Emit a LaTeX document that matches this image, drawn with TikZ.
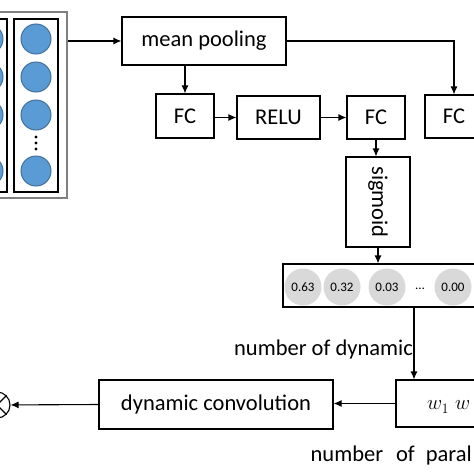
\documentclass[tikz,border=0pt]{standalone}
\usepackage{amsmath}
\usepackage{fontspec}
\setmainfont{Carlito}
\usetikzlibrary{arrows.meta}
\definecolor{cellblue}{HTML}{5B9BD5}
\definecolor{cellrim}{HTML}{41719C}
\definecolor{wgray}{HTML}{D9D9D9}
\begin{document}
\begin{tikzpicture}[x=1pt,y=-1pt]
\tikzstyle{block}=[draw=black,line width=1.1pt,inner sep=0pt,font=\fontsize{22.5}{27}\selectfont]
\tikzstyle{cell}=[circle,draw=cellrim,fill=cellblue,line width=1pt,minimum size=30pt,inner sep=0pt]
\tikzstyle{wcell}=[circle,fill=wgray,minimum size=37pt,inner sep=0pt,font=\fontsize{13}{15}\selectfont]
\tikzstyle{conn}=[line width=1.1pt,-{Latex[length=8pt,width=7pt]}]
\tikzstyle{lab}=[inner sep=0pt,font=\fontsize{22.5}{27}\selectfont]
\useasboundingbox (0,0) rectangle (474,474);
\fill[white] (0,0) rectangle (474,474);
\clip (0,0) rectangle (474,474);
% input features
\node[draw=gray,line width=1.1pt,minimum width=130pt,minimum height=186pt,inner sep=0pt] (in) at (2,105) {};
\node[block,minimum width=44pt,minimum height=173pt] (col1) at (36,105.5) {};
\node[block,minimum width=44pt,minimum height=173pt] (col0) at (-15,105.5) {};
\foreach \y in {39,77,115,171} {
	\node[cell] (a\y) at (36,\y) {};
	\node[cell] (b\y) at (-12,\y) {};
}
\foreach \y in {137,143,149} \fill (36,\y) circle (1.6pt);
% attention branch
\node[block,minimum width=164pt,minimum height=48pt] (mean) at (204,41) {mean pooling};
\node[block,minimum width=58pt,minimum height=44pt] (fc1) at (185,116) {FC};
\node[block,minimum width=83pt,minimum height=43pt] (relu) at (278.5,117.5) {RELU};
\node[block,minimum width=58pt,minimum height=43pt] (fc2) at (376,117.5) {FC};
\node[block,minimum width=58pt,minimum height=43pt] (fc3) at (454,116.5) {FC};
\node[block,minimum width=64pt,minimum height=90pt] (sig) at (378,202) {\rotatebox{-90}{sigmoid}};
\node[block,minimum width=207pt,minimum height=43pt] (wts) at (386.5,285.5) {};
\node[wcell] (p1) at (303,287) {0.63};
\node[wcell] (p2) at (342,287) {0.32};
\node[wcell] (p3) at (387,287) {0.03};
\node[lab,font=\fontsize{13}{15}\selectfont] (pd) at (420,289) {...};
\node[wcell] (p4) at (453,287) {0.00};
% kernels and convolution
\node[block,minimum width=124pt,minimum height=47pt] (wbox) at (458,403.5) {};
\node[lab,anchor=west] (wtxt) at (427,407) {$w_1\; w$};
\node[block,minimum width=234pt,minimum height=49pt] (dyn) at (216,404.5) {dynamic convolution};
\node[circle,draw=black,line width=1.1pt,minimum size=26pt,inner sep=0pt] (mul) at (-3,405) {};
\draw[line width=1.1pt] (mul.north east) -- (mul.south west) (mul.north west) -- (mul.south east);
\node[lab,anchor=east] (ldyn) at (413,349) {number of dynamic};
\node[lab,anchor=east] (lpar) at (472,455) {number\hspace{13pt}of\hspace{11pt}paral};
% connectors
\draw[conn] (in.east |- mean.west) -- (mean.west);
\draw[conn] (fc1 |- mean.south) -- (fc1.north);
\draw[conn] (mean.east) -| (fc3.north);
\draw[conn] (fc1.east |- relu) -- (relu.west);
\draw[conn] (relu.east) -- (fc2.west);
\draw[conn] (fc2.south) -- (fc2 |- sig.north);
\draw[conn] (sig.south) -- (sig |- wts.north);
\draw[conn] ([xshift=27.5pt]wts.south) -- ([xshift=27.5pt]wts.south |- wbox.north);
\draw[conn] (wbox.west) -- (wbox.west -| dyn.east);
\draw[conn] (dyn.west) -- (mul);
\end{tikzpicture}
\end{document}
